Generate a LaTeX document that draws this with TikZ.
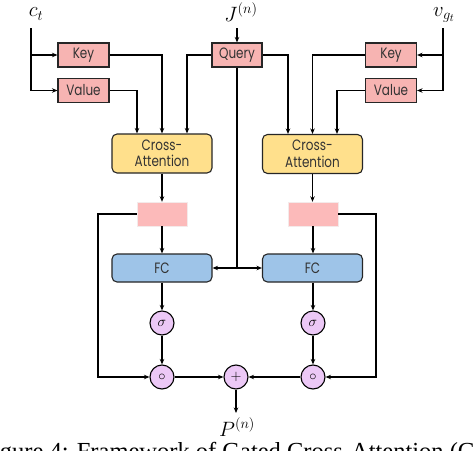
\documentclass[tikz,border=0pt]{standalone}
\usepackage{fontspec}
\newfontfamily\boxfont{Poppins}[FakeStretch=0.8]
\newfontfamily\capfont{Liberation Serif}
\usetikzlibrary{arrows.meta,calc}
\definecolor{kpink}{RGB}{247,180,178}
\definecolor{spink}{RGB}{252,186,186}
\definecolor{cayel}{RGB}{255,224,140}
\definecolor{fcblue}{RGB}{158,196,232}
\definecolor{circv}{RGB}{236,200,246}
\begin{document}
\begin{tikzpicture}[x=1pt,y=-1pt,
  line width=1.1pt,
  arr/.style={-{Stealth[length=5.5pt,width=4.5pt]}},
  kbox/.style={draw=black!85, fill=kpink, minimum width=51pt, minimum height=24pt, inner sep=0pt, font=\boxfont\fontsize{15}{16}\selectfont, text=black!80},
  cabox/.style={draw=black!85, fill=cayel, rounded corners=5pt, minimum width=100pt, minimum height=39pt, inner sep=0pt, align=center, font=\boxfont\fontsize{15}{16.5}\selectfont, text=black!80},
  fcbox/.style={draw=black!85, fill=fcblue, rounded corners=5pt, minimum width=100pt, minimum height=28pt, inner sep=0pt, font=\boxfont\fontsize{15}{16}\selectfont, text=black!80},
  pbox/.style={draw=spink!80!black!20, fill=spink, line width=0.4pt, minimum width=50pt, minimum height=24pt, inner sep=0pt},
  opc/.style={circle, draw=black, fill=circv, minimum size=24pt, inner sep=0pt, font=\fontsize{14}{14}\selectfont},
  lab/.style={font=\fontsize{22}{22}\selectfont, inner sep=0pt}
]
\clip (0,0) rectangle (474,450);
\fill[white] (0,0) rectangle (474,450);

% labels
\node[lab] (ct) at (36,14) {$c_t$};
\node[lab] (jn) at (241,12) {$J^{(n)}$};
\node[lab] (vg) at (444,15) {$v_{g_t}$};
\node[lab] (pn) at (237,427) {$P^{(n)}$};

% input boxes
\node[kbox] (keyL) at (83.5,55) {Key};
\node[kbox] (valL) at (83.5,90.5) {Value};
\node[kbox, minimum width=50pt] (query) at (237,55) {Query};
\node[kbox] (keyR) at (391,55) {Key};
\node[kbox] (valR) at (391,90.5) {Value};

% cross attention
\node[cabox] (caL) at (162,153.5) {Cross-\\Attention};
\node[cabox] (caR) at (312.5,154) {Cross-\\Attention};

% pink boxes
\node[pbox] (pkL) at (162,214) {};
\node[pbox] (pkR) at (313,214) {};

% FC
\node[fcbox] (fcL) at (162,268) {FC};
\node[fcbox] (fcR) at (312.5,268) {FC};

% ops
\node[opc] (sigL) at (162,323) {$\sigma$};
\node[opc] (sigR) at (313,323) {$\sigma$};
\node[opc] (odL) at (162,377) {$\circ$};
\node[opc] (odR) at (313,377) {$\circ$};
\node[opc] (plus) at (236,377) {$+$};

% coordinates
\coordinate (ctS) at (31,28);
\coordinate (ctB) at (31,90.5);
\coordinate (ctK) at (31,55);
\coordinate (vgS) at (443,28);
\coordinate (vgB) at (443,90.5);
\coordinate (vgK) at (443,55);
\coordinate (jS) at (237,28);
\coordinate (qj) at (237,268);
\coordinate (lout) at (98,214);
\coordinate (rout) at (376,214);
\coordinate (pend) at (236,413);

% left inputs
\draw (ctS) -- (ctB);
\draw[arr] (ctK) -- (keyL.west);
\draw[arr] (ctB) -- (valL.west);
% right inputs
\draw (vgS) -- (vgB);
\draw[arr] (vgK) -- (keyR.east);
\draw[arr] (vgB) -- (valR.east);
% query input
\draw[arr] (jS) -- (query.north);

% into cross-attention left
\draw[arr] (valL.east) -| ($(caL.north)+(-25,0)$);
\draw[arr] (keyL.east) -| (caL.north);
\draw[arr] (query.west) -| ($(caL.north)+(25,0)$);
% into cross-attention right
\draw[arr] (query.east) -| ($(caR.north)+(-24.5,0)$);
\draw[arr] (keyR.west) -| (caR.north);
\draw[arr] (valR.west) -| ($(caR.north)+(24.5,0)$);

% query down
\draw (query.south) -- (qj);
\draw[arr] (qj) -- (fcL.east);
\draw[arr] (qj) -- (fcR.west);

% left chain
\draw[arr] (caL.south) -- (pkL.north);
\draw[arr] (pkL.south) -- (fcL.north);
\draw[arr] (fcL.south) -- (sigL.north);
\draw[arr] (sigL.south) -- (odL.north);
% right chain
\draw[arr] (caR.south) -- (pkR.north -| caR.south);
\draw[arr] (pkR.south) -- (fcR.north -| pkR.south);
\draw[arr] (fcR.south -| sigR.north) -- (sigR.north);
\draw[arr] (sigR.south) -- (odR.north);

% skip connections
\draw[arr] (pkL.west) -- (lout) |- (odL.west);
\draw[arr] (pkR.east) -- (rout) |- (odR.east);

% combine
\draw[arr] (odL.east) -- (plus.west);
\draw[arr] (odR.west) -- (plus.east);
\draw[arr] (plus.south) -- (pend);

% caption (cut off by the frame)
\node[anchor=base west, inner sep=0pt, font=\capfont\fontsize{24.5}{24.5}\selectfont] (cap) at (-21,459) {Figure 4: Framework of Gated Cross-Attention (GCA)};
\end{tikzpicture}
\end{document}
